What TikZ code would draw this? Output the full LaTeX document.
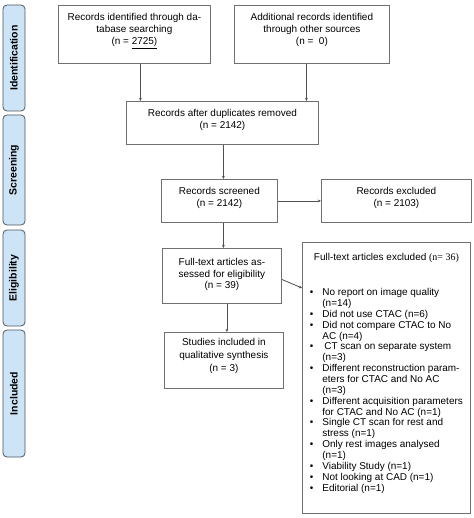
\documentclass[tikz,border=0pt]{standalone}
\usepackage{fontspec}
\setmainfont{Liberation Sans}
\newfontfamily\tnr{Liberation Serif}
\usetikzlibrary{arrows.meta,calc}
\definecolor{boxline}{HTML}{707070}
\definecolor{arrowline}{HTML}{505050}
\definecolor{phaseline}{HTML}{4F5962}
\definecolor{phasefill}{HTML}{CDE4F7}
\newcommand\bx[4]{\parbox[c][#2][t]{#1}{\centering\fontsize{10}{12}\selectfont\vspace*{#3}#4\par}}
\hbadness=10000
\tikzset{
  box/.style={draw=boxline, line width=0.8bp, inner sep=0pt, anchor=north west},
  arr/.style={draw=arrowline, line width=0.8bp, -{Stealth[length=3.2bp,width=2.8bp]}},
  phase/.style={draw=phaseline, fill=phasefill, rounded corners=4bp, line width=0.8bp,
    minimum height=22bp, inner sep=0pt, rotate=90,
    font=\fontsize{10.5}{12}\selectfont\bfseries},
}
\begin{document}
\begin{tikzpicture}[x=1bp,y=-1bp]
\fill[white] (0,0) rectangle (474,518);
\useasboundingbox (0,0) rectangle (474,518);

% phase bars
\node[phase, minimum width=106bp] (p1) at (14,58) {Identification};
\node[phase, minimum width=110bp] (p2) at (14,170) {Screening};
\node[phase, minimum width=96bp]  (p3) at (14,278) {Eligibility};
\node[phase, minimum width=127bp] (p4) at (14,393.5) {Included};

% boxes
\node[box] (b1) at (58,5) {\bx{152bp}{58bp}{8bp}{Records identified through da-\\tabase searching\\(n = \underline{2725)}}};
\node[box] (b2) at (234,5) {\bx{155bp}{58bp}{8bp}{Additional records identified\\through other sources\\(n = \ 0)}};
\node[box] (b3) at (126,101) {\bx{192bp}{43bp}{8.3bp}{Records after duplicates removed\\(n = 2142)}};
\node[box] (b4) at (161,179) {\bx{116bp}{43bp}{8.3bp}{Records screened\\(n = 2142)}};
\node[box] (b5) at (321,179) {\bx{150bp}{43bp}{8.3bp}{Records excluded\\(n = 2103)}};
\node[box] (b6) at (162,248) {\parbox[c][55bp][t]{119bp}{\centering\fontsize{10}{11.3}\selectfont\vspace*{10.3bp}Full-text articles as-\\sessed for eligibility\\(n = 39)\par}};
\node[box] (b8) at (164,332) {\parbox[c][56bp][t]{119bp}{\centering\fontsize{10}{12.6}\selectfont\vspace*{6.3bp}Studies included in\\qualitative synthesis\\(n = 3)\par}};
\node[box] (b7) at (302,242) {\parbox[c][271bp][t]{168bp}{\fontsize{10}{10.9}\selectfont
  \vspace*{11.2bp}\centering Full-text articles excluded {\tnr(n= 36)}\par
  \vspace{24bp}\raggedright
  \begin{list}{\textbullet}{\setlength{\leftmargin}{20bp}\setlength{\labelwidth}{5bp}\setlength{\labelsep}{9bp}%
     \setlength{\itemsep}{0pt}\setlength{\parsep}{0pt}\setlength{\topsep}{0pt}\setlength{\partopsep}{0pt}}
  \item No report on image quality\\(n=14)
  \item Did not use CTAC (n=6)
  \item Did not compare CTAC to No\\AC (n=4)
  \item \hspace{2bp}CT scan on separate system\\(n=3)
  \item Different reconstruction param-\\eters for CTAC and No AC\\(n=3)
  \item Different acquisition parameters\\for CTAC and No AC (n=1)
  \item Single CT scan for rest and\\stress (n=1)
  \item Only rest images analysed\\(n=1)
  \item Viability Study (n=1)
  \item Not looking at CAD (n=1)
  \item Editorial (n=1)
  \end{list}\par}};

% connectors
\draw[arr] ([xshift=6bp]b1.south) -- ([xshift=6bp]b1.south |- b3.north);
\draw[arr] ([xshift=-5.5bp]b2.south) -- ([xshift=-5.5bp]b2.south |- b3.north);
\draw[arr] ([xshift=1bp]b3.south) -- ([xshift=1bp]b3.south |- b4.north);
\draw[arr] (b4.east) -- (b4.east -| b5.west);
\draw[arr] ([xshift=1.5bp]b6.north |- b4.south) -- ([xshift=1.5bp]b6.north);
\draw[arr] ([xshift=3bp]b8.north |- b6.south) -- ([xshift=3bp]b8.north);
\draw[arr] ([yshift=-3.5bp]b6.east) -- ($(b7.north west)+(0,46)$);
\end{tikzpicture}
\end{document}
